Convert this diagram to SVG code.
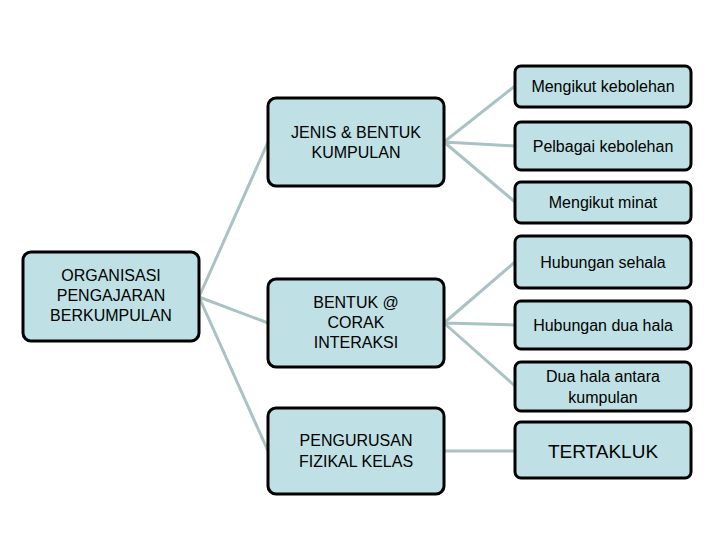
<svg xmlns="http://www.w3.org/2000/svg" width="720" height="540" viewBox="0 0 720 540">
<style>
.b{fill:#bfe0e4;stroke:#000;stroke-width:3}
.t{font-family:"Liberation Sans",Arial,sans-serif;font-size:16px;fill:#000;text-anchor:middle}
.c{stroke:#a9c3c4;stroke-width:3;fill:none}
</style>
<rect width="720" height="540" fill="#fff"/>
<g id="connectors">
<path class="c" d="M199 297L268 142M199 297L268 323M199 297L268 451"/>
<path class="c" d="M444 142L515 86M444 142L515 146M444 142L515 202"/>
<path class="c" d="M444 323L515 262M444 323L515 325M444 323L515 386"/>
<path class="c" d="M444 451L515 451"/>
</g>
<g id="root"><rect class="b" x="23" y="252" width="176" height="89" rx="8"/><text class="t"><tspan x="111" y="281">ORGANISASI</tspan><tspan x="111" y="301">PENGAJARAN</tspan><tspan x="111" y="321">BERKUMPULAN</tspan></text></g>
<g id="jenis"><rect class="b" x="268" y="98" width="176" height="88" rx="8"/><text class="t"><tspan x="356" y="138">JENIS &amp; BENTUK</tspan><tspan x="356" y="158">KUMPULAN</tspan></text></g>
<g id="bentuk"><rect class="b" x="268" y="279" width="176" height="88" rx="8"/><text class="t"><tspan x="356" y="308">BENTUK @</tspan><tspan x="356" y="328">CORAK</tspan><tspan x="356" y="348">INTERAKSI</tspan></text></g>
<g id="pengurusan"><rect class="b" x="268" y="408" width="176" height="86" rx="8"/><text class="t"><tspan x="356" y="446">PENGURUSAN</tspan><tspan x="356" y="467">FIZIKAL KELAS</tspan></text></g>
<g id="r1"><rect class="b" x="515" y="66" width="176" height="41" rx="6"/><text class="t" x="603" y="92">Mengikut kebolehan</text></g>
<g id="r2"><rect class="b" x="515" y="122" width="176" height="48" rx="6"/><text class="t" x="603" y="152">Pelbagai kebolehan</text></g>
<g id="r3"><rect class="b" x="515" y="182" width="176" height="41" rx="6"/><text class="t" x="603" y="208">Mengikut minat</text></g>
<g id="r4"><rect class="b" x="515" y="236" width="176" height="52" rx="6"/><text class="t" x="603" y="268">Hubungan sehala</text></g>
<g id="r5"><rect class="b" x="515" y="301" width="176" height="48" rx="6"/><text class="t" x="603" y="331">Hubungan dua hala</text></g>
<g id="r6"><rect class="b" x="515" y="362" width="176" height="49" rx="6"/><text class="t"><tspan x="603" y="382">Dua hala antara</tspan><tspan x="603" y="403">kumpulan</tspan></text></g>
<g id="r7"><rect class="b" x="515" y="422" width="176" height="56" rx="6"/><text class="t" x="603" y="458" style="font-size:19px">TERTAKLUK</text></g>
</svg>
